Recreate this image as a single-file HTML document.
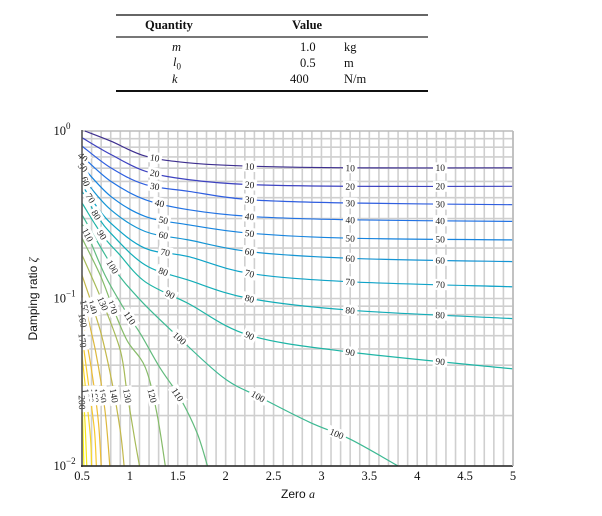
<!DOCTYPE html>
<html><head><meta charset="utf-8">
<style>
body{margin:0;background:#fff;width:602px;height:516px;overflow:hidden;position:relative;font-family:"Liberation Serif",serif;}
.t{position:absolute;font-size:12.5px;color:#111;line-height:1;white-space:nowrap}
.rule{position:absolute;left:116px;width:312px}
</style></head><body>
<div>
<div class="rule" style="top:14px;height:2px;background:#666"></div>
<div class="t" style="left:145px;top:19px;font-weight:bold">Quantity</div>
<div class="t" style="left:292px;top:19px;font-weight:bold">Value</div>
<div class="rule" style="top:36px;height:1.5px;background:#777"></div>
<div class="t" style="left:172px;top:41px;font-style:italic">m</div>
<div class="t" style="left:300px;top:41px">1.0</div>
<div class="t" style="left:344px;top:41px">kg</div>
<div class="t" style="left:173px;top:56px;font-style:italic">l<sub style="font-style:normal;font-size:9px">0</sub></div>
<div class="t" style="left:300px;top:57px">0.5</div>
<div class="t" style="left:344px;top:57px">m</div>
<div class="t" style="left:172px;top:73px;font-style:italic">k</div>
<div class="t" style="left:290px;top:73px">400</div>
<div class="t" style="left:344px;top:73px">N/m</div>
<div class="rule" style="top:90px;height:1.5px;background:#111"></div>
</div>
<svg id="chart" width="602" height="516" style="position:absolute;left:0;top:0" xmlns="http://www.w3.org/2000/svg"></svg>
<script>
const levels=[10,20,30,40,50,60,70,80,90,100,110,120,130,140,150,160,170,180,190,200];
const colors=["#3e2f8f","#3d42c0","#2f5ee0","#2172e4","#1684df","#1595d4","#0ea3c8","#12adb8","#1eb5a6","#3cb993","#62bb7d","#86bb69","#a6ba58","#c3b84a","#dcb83e","#eebd35","#f7c92d","#f8d723","#f6e61b","#f9f514"];
const contourA=[
[0.53,0.80,1.16,1.61,2.25,3.30,5.0],
[0.5,0.80,1.16,1.61,2.25,3.30,5.0],
[0.5,0.80,1.16,1.61,2.25,3.30,5.0],
[0.5,0.80,1.16,1.61,2.25,3.30,5.0],
[0.5,0.80,1.16,1.61,2.25,3.30,5.0],
[0.5,0.54,0.80,1.16,1.61,2.25,3.30,5.0],
[0.5,0.59,0.80,1.16,1.61,2.25,3.30,5.0],
[0.5,0.65,0.80,1.16,1.61,2.25,3.30,5.0],
[0.5,0.71,0.88,1.16,1.61,2.25,3.30,5.0],
[0.5,0.82,1.11,1.45,1.97,2.36,2.88,3.30,3.80],
[0.5,0.56,0.74,0.97,1.11,1.31,1.52,1.70,1.81],
[0.5,0.69,0.82,0.97,1.16,1.28,1.37],
[0.5,0.72,0.90,0.97,1.05,1.10],
[0.5,0.69,0.81,0.90,0.94],
[0.5,0.64,0.74,0.79],
[0.5,0.60,0.67,0.70],
[0.5,0.57,0.63,0.65],
[0.5,0.55,0.59,0.60],
[0.5,0.53,0.55],
[0.5,0.51,0.52]];
const contourLogZeta=[
[0,-0.06,-0.15,-0.19,-0.21,-0.22,-0.22],
[-0.04,-0.14,-0.24,-0.29,-0.32,-0.33,-0.33],
[-0.09,-0.22,-0.32,-0.36,-0.41,-0.43,-0.44],
[-0.15,-0.30,-0.41,-0.47,-0.51,-0.53,-0.54],
[-0.21,-0.39,-0.51,-0.56,-0.61,-0.64,-0.65],
[-0.245,-0.30,-0.47,-0.60,-0.65,-0.72,-0.76,-0.78],
[-0.32,-0.40,-0.55,-0.70,-0.75,-0.85,-0.90,-0.93],
[-0.36,-0.50,-0.61,-0.80,-0.89,-1.00,-1.07,-1.12],
[-0.43,-0.62,-0.73,-0.90,-1.03,-1.22,-1.32,-1.42],
[-0.50,-0.81,-1.01,-1.20,-1.47,-1.59,-1.74,-1.84,-2.0],
[-0.555,-0.62,-0.86,-1.09,-1.21,-1.41,-1.59,-1.80,-2.0],
[-0.64,-0.86,-1.05,-1.25,-1.41,-1.68,-2.0],
[-0.74,-1.03,-1.31,-1.56,-1.84,-2.0],
[-0.86,-1.19,-1.49,-1.79,-2.0],
[-0.98,-1.31,-1.67,-2.0],
[-1.10,-1.43,-1.73,-2.0],
[-1.22,-1.52,-1.79,-2.0],
[-1.34,-1.61,-1.84,-2.0],
[-1.46,-1.73,-2.0],
[-1.58,-1.79,-2.0]];
const labelLevelIdx=[0,0,0,0, 1,1,1,1, 2,2,2,2, 3,3,3,3,3, 4,4,4,4,4, 5,5,5,5,5, 6,6,6,6,6, 7,7,7,7,7, 8,8,8,8,8, 9,9,9,9, 10,10,10, 11,11, 12,12, 13,13, 14,14, 15,15, 16,16, 17, 18, 19];
const labelKey=["a","a","a","a", "a","a","a","a", "a","a","a","a", "a","a","a","a","a", "a","a","a","a","a", "a","a","a","a","a", "a","a","a","a","a", "a","a","a","a","a", "a","a","a","a","a", "a","a","a","a", "a","a","a", "a","z", "z","z", "z","z", "z","z", "z","z", "z","z", "z","z","z"];
const labelVal=[1.26,2.25,3.3,4.24, 1.26,2.25,3.3,4.24, 1.26,2.25,3.3,4.24, 0.51,1.31,2.25,3.3,4.24, 0.51,1.35,2.25,3.3,4.24, 0.54,1.35,2.25,3.3,4.24, 0.59,1.37,2.25,3.3,4.24, 0.65,1.35,2.25,3.3,4.24, 0.71,1.42,2.25,3.3,4.24, 0.82,1.52,2.34,3.16, 0.56,1.0,1.5, 0.82,-1.58, -1.03,-1.58, -1.05,-1.58, -1.05,-1.58, -1.13,-1.58, -1.25,-1.58, -1.58,-1.62,-1.62];
const xTicks=[0.5,1,1.5,2,2.5,3,3.5,4,4.5,5];
const xTickLabels=["0.5","1","1.5","2","2.5","3","3.5","4","4.5","5"];
const yTicks=[0,-1,-2];
const yTickLabels=["0","\u22121","\u22122"];

const NS="http://www.w3.org/2000/svg";
const svg=document.getElementById('chart');
const X0=82,X1=513,Y0=131,Y1=466;
function xs(a){return X0+(a-0.5)/4.5*(X1-X0);}
function ys(lz){return Y0+(0-lz)/2*(Y1-Y0);}
function mk(tag,attrs,parent){const e=document.createElementNS(NS,tag);for(const k in attrs)e.setAttribute(k,attrs[k]);(parent||svg).appendChild(e);return e;}

const grid=mk('g',{});


for(let i=0;i<=45;i++){const a=0.5+i*0.1;const x=xs(a);
 const l=mk('line',{x1:x,x2:x,y1:Y0,y2:Y1,stroke:'#cfcfcf','stroke-width':1.6},grid);
 
 }
for(let d=-2;d<0;d++){for(let m=1;m<10;m++){const y=ys(d+Math.log10(m));
 const l=mk('line',{x1:X0,x2:X1,y1:y,y2:y,stroke:'#cfcfcf','stroke-width':1.6},grid);
 
 }}
{const l=mk('line',{x1:X0,x2:X1,y1:Y0,y2:Y0,stroke:'#bbb','stroke-width':1.6},grid);
 
 }

function smoothPath(p){
 let d='M'+p[0][0].toFixed(1)+','+p[0][1].toFixed(1);
 for(let i=0;i<p.length-1;i++){
  const p0=p[Math.max(0,i-1)],p1=p[i],p2=p[i+1],p3=p[Math.min(p.length-1,i+2)];
  const c1x=p1[0]+(p2[0]-p0[0])/6,c1y=p1[1]+(p2[1]-p0[1])/6;
  const c2x=p2[0]-(p3[0]-p1[0])/6,c2y=p2[1]-(p3[1]-p1[1])/6;
  d+=` C${c1x.toFixed(1)},${c1y.toFixed(1)} ${c2x.toFixed(1)},${c2y.toFixed(1)} ${p2[0].toFixed(1)},${p2[1].toFixed(1)}`;
 }
 return d;
}
const curves=mk('g',{fill:'none'});


for(let i=0;i<levels.length;i++){
 const p=contourA[i].map((a,j)=>[xs(a),ys(contourLogZeta[i][j])]);
 const pl=mk('path',{d:smoothPath(p),stroke:colors[i],'stroke-width':1.2},curves);
 
 
}
function locate(i,key,v){
 const A=contourA[i],Z=contourLogZeta[i];
 for(let j=0;j<A.length-1;j++){
  const u0=key==='a'?A[j]:-Z[j],u1=key==='a'?A[j+1]:-Z[j+1];const t=key==='a'?v:-v;
  if((t>=u0&&t<=u1)||j===A.length-2){
   let f=(u1===u0)?0:(t-u0)/(u1-u0);f=Math.max(0,Math.min(1,f));
   const x0=xs(A[j]),y0=ys(Z[j]),x1=xs(A[j+1]),y1=ys(Z[j+1]);
   let ang=Math.atan2(y1-y0,x1-x0)*180/Math.PI;
   if(ang>90)ang-=180;if(ang<-90)ang+=180;
   return [x0+(x1-x0)*f,y0+(y1-y0)*f,ang];
  }
 }
}
const labs=mk('g',{});


for(let k=0;k<labelLevelIdx.length;k++){
 const i=labelLevelIdx[k];const r=locate(i,labelKey[k],labelVal[k]);if(!r)continue;
 const txt=String(levels[i]);const w=txt.length*5.2+4;
 const g=mk('g',{transform:`translate(${r[0].toFixed(1)},${r[1].toFixed(1)}) rotate(${r[2].toFixed(1)})`},labs);
 
 
 mk('rect',{x:-w/2,y:-5.5,width:w,height:11,fill:'#fff'},g);
 const t=mk('text',{x:0,y:3.4,'text-anchor':'middle','font-size':'9.5','font-family':'Liberation Serif, serif',fill:'#222'},g);
 t.textContent=txt;
}
const ax=mk('g',{});


mk('line',{x1:X0,x2:X0,y1:Y0-1,y2:Y1+1,stroke:'#555','stroke-width':1.5},ax);
mk('line',{x1:X0-1,x2:X1,y1:Y1,y2:Y1,stroke:'#222','stroke-width':1.5},ax);
mk('line',{x1:X1,x2:X1,y1:Y0,y2:Y1,stroke:'#bbb','stroke-width':1.6},ax);
xTicks.forEach((v,i)=>{const t=mk('text',{x:xs(v),y:480,'text-anchor':'middle','font-size':'12.5','font-family':'Liberation Serif, serif',fill:'#111'},ax);
 
 
 t.textContent=xTickLabels[i];});
yTicks.forEach((v,i)=>{const y=ys(v);
 const t=mk('text',{x:66,y:y+4,'text-anchor':'end','font-size':'12.5','font-family':'Liberation Serif, serif',fill:'#111'},ax);
 
 
 t.textContent='10';
 const s=mk('text',{x:66,y:y-2,'text-anchor':'start','font-size':'9','font-family':'Liberation Serif, serif',fill:'#111'},ax);
 
 
 s.textContent=yTickLabels[i];});
const xt=mk('text',{x:298,y:498,'text-anchor':'middle','font-size':'12','font-family':'Liberation Sans, sans-serif',fill:'#111'},ax);


xt.innerHTML='Zero <tspan font-family="Liberation Serif, serif" font-style="italic">a</tspan>';
const yt=mk('text',{x:0,y:0,'text-anchor':'middle','font-size':'12','font-family':'Liberation Sans, sans-serif',fill:'#111',transform:'translate(37,299) rotate(-90)'},ax);


yt.innerHTML='Damping ratio <tspan font-family="Liberation Serif, serif" font-style="italic">ζ</tspan>';
</script>
</body></html>
